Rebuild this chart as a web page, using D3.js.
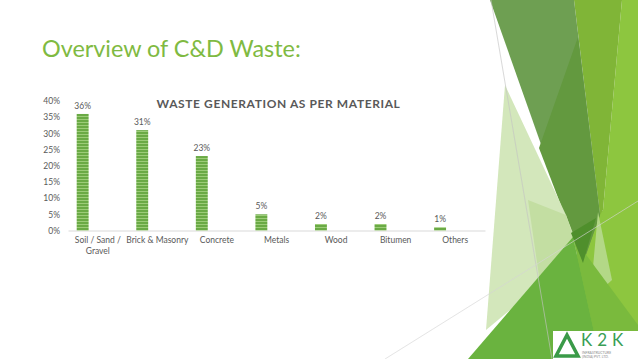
<!DOCTYPE html>
<html>
<head>
<meta charset="utf-8">
<script src="https://cdn.jsdelivr.net/npm/d3@7"></script>
<style>
  body { margin: 0; background: #fff; }
  svg { display: block; font-family: Lato, "Open Sans", sans-serif; }
</style>
</head>
<body>
<svg id="chart" width="638" height="359"></svg>
<script>
const categories = ["Soil / Sand / Gravel", "Brick & Masonry", "Concrete", "Metals", "Wood", "Bitumen", "Others"];
const shares = [36, 31, 23, 5, 2, 2, 1];
const yTicks = [0, 5, 10, 15, 20, 25, 30, 35, 40];

const svg = d3.select("#chart");

// slide decoration on the right side
const deco = svg.append("g");
const shapes = [
  { pts: [[622,0],[638,0],[638,359],[470,359],[603,210]], fill: "#8dc63f" },
  { pts: [[574,0],[622,0],[603,210],[600,215]], fill: "#80b537" },
  { pts: [[490,0],[574,0],[600,215],[583,263]], fill: "#6e9f52" },
  { pts: [[578,37],[600,215],[583,263],[539,148]], fill: "#63993f" },
  { pts: [[505,85],[566,215],[580,252],[486,330]], fill: "#d3e7bb" },
  { pts: [[528,200],[566,215],[578,250],[540,283]], fill: "#c3dea2" },
  { pts: [[598,212],[612,280],[590,300]], fill: "#b3d887" },
  { pts: [[573,237],[638,325],[638,359],[600,359]], fill: "#7aba3d" },
  { pts: [[468,359],[573,237],[600,359]], fill: "#6ab33f" },
  { pts: [[571,233],[596,218],[583,263]], fill: "#4f8f2c" }
];
deco.selectAll("polygon")
  .data(shapes)
  .enter()
  .append("polygon")
  .attr("points", d => d.pts.map(p => p.join(",")).join(" "))
  .attr("fill", d => d.fill);
deco.append("line").attr("x1", 491).attr("y1", 0).attr("x2", 552).attr("y2", 359)
  .attr("stroke", "#c4c4c4").attr("stroke-width", 0.8).attr("opacity", 0.8);
deco.append("line").attr("x1", 385).attr("y1", 359).attr("x2", 638).attr("y2", 201)
  .attr("stroke", "#d6d6d6").attr("stroke-width", 0.8).attr("opacity", 0.8);

// logo box
const logo = svg.append("g");
logo.append("rect").attr("x", 553).attr("y", 331).attr("width", 85).attr("height", 28).attr("fill", "#fff");
logo.append("path").attr("d", "M567,335 L578,356 L556,356 Z").attr("fill", "none")
  .attr("stroke", "#3a9a48").attr("stroke-width", 3.5);
logo.append("text").attr("x", 581).attr("y", 346).attr("font-size", 17).attr("fill", "#3a9e55")
  .attr("letter-spacing", 5).text("K2K");
logo.append("text").attr("x", 582).attr("y", 353.5).attr("font-size", 3.4).attr("fill", "#8a8a8a")
  .text("INFRASTRUCTURE");
logo.append("text").attr("x", 582).attr("y", 358).attr("font-size", 3.4).attr("fill", "#8a8a8a")
  .text("(INDIA) PVT. LTD.");

// slide title
svg.append("text")
  .attr("x", 42).attr("y", 57)
  .attr("font-size", 23.4)
  .attr("fill", "#7fba42")
  .text("Overview of C&D Waste:");

// bar stripes
const defs = svg.append("defs");
const pat = defs.append("pattern").attr("id", "stripes")
  .attr("width", 4).attr("height", 3).attr("patternUnits", "userSpaceOnUse");
pat.append("rect").attr("width", 4).attr("height", 3).attr("fill", "#6aaa45");
pat.append("rect").attr("y", 2).attr("width", 4).attr("height", 1).attr("fill", "#9ccc78");

const x = d3.scaleBand().domain(categories).range([68, 485]);
const y = d3.scaleLinear().domain([0, 40]).range([230.5, 101]);
const bw = x.bandwidth();

// y axis labels
svg.append("g")
  .attr("transform", "translate(60,0)")
  .call(d3.axisLeft(y).tickValues(yTicks).tickFormat(d => d + "%").tickSize(0).tickPadding(0))
  .call(g => g.select(".domain").remove())
  .call(g => g.selectAll("text").attr("font-size", 8.5).attr("fill", "#595959").attr("font-family", "Lato, sans-serif"));

// x axis
const xAxis = svg.append("g")
  .attr("transform", "translate(0," + y(0) + ")")
  .call(d3.axisBottom(x).tickSize(0).tickFormat(""));
xAxis.select(".domain").attr("stroke", "#d9d9d9");

// chart title
svg.append("text")
  .attr("x", 278.5).attr("y", 107.5)
  .attr("text-anchor", "middle")
  .attr("font-size", 12)
  .attr("font-weight", "bold")
  .attr("letter-spacing", 0.6)
  .attr("fill", "#595959")
  .text("WASTE GENERATION AS PER MATERIAL");

// bars
const bars = svg.append("g");
bars.selectAll("rect")
  .data(shares)
  .enter()
  .append("rect")
  .attr("x", (d, i) => x(categories[i]) + bw * 0.146)
  .attr("y", d => y(d))
  .attr("width", bw * 0.2)
  .attr("height", d => y(0) - y(d))
  .attr("fill", "url(#stripes)");

// value labels
bars.selectAll("text")
  .data(shares)
  .enter()
  .append("text")
  .attr("x", (d, i) => x(categories[i]) + bw * 0.246)
  .attr("y", d => y(d) - 5)
  .attr("text-anchor", "middle")
  .attr("font-size", 8.5)
  .attr("fill", "#595959")
  .text(d => d + "%");

// category labels
const cats = svg.append("g");
const wrapped = { "Soil / Sand / Gravel": ["Soil / Sand /", "Gravel"] };
categories.forEach(c => {
  const lines = wrapped[c] || [c];
  const t = cats.append("text")
    .attr("x", x(c) + bw / 2)
    .attr("y", 243)
    .attr("text-anchor", "middle")
    .attr("font-size", 8.5)
    .attr("fill", "#595959");
  lines.forEach((l, k) => {
    t.append("tspan").attr("x", x(c) + bw / 2).attr("dy", k ? 10.5 : 0).text(l);
  });
});
</script>
</body>
</html>
